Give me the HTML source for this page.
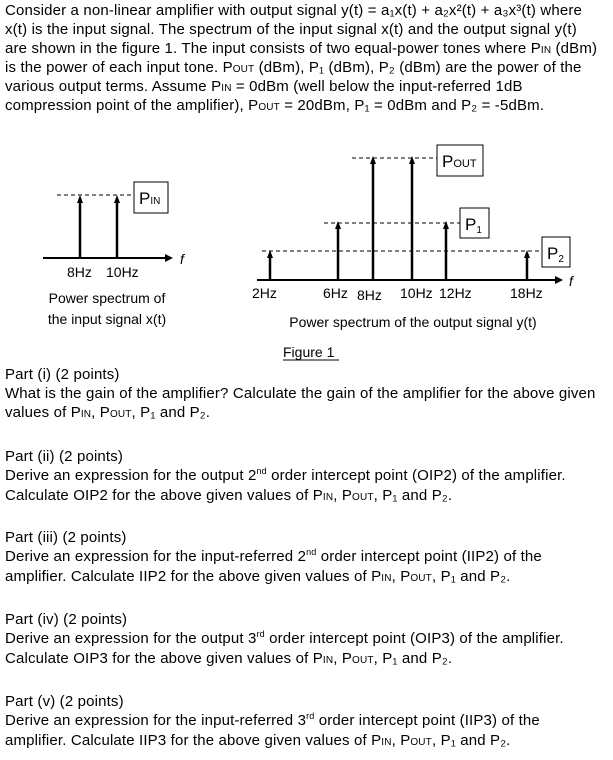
<!DOCTYPE html>
<html><head><meta charset="utf-8"><style>
body{margin:0;width:613px;height:760px;background:#fff;position:relative;overflow:hidden;font-family:"Liberation Sans",sans-serif;color:#000}
.l{position:absolute;left:5px;font-size:15px;letter-spacing:0.15px;white-space:nowrap;line-height:19px}
.s{font-size:10px}
sup{font-size:9px;line-height:0}
</style></head><body>
<div class="l" style="top:1px">Consider a non-linear amplifier with output signal y(t) = a₁x(t) + a₂x²(t) + a₃x³(t) where</div>
<div class="l" style="top:20px">x(t) is the input signal. The spectrum of the input signal x(t) and the output signal y(t)</div>
<div class="l" style="top:39px">are shown in the figure 1. The input consists of two equal-power tones where P<span class="s">IN</span> (dBm)</div>
<div class="l" style="top:58px">is the power of each input tone. P<span class="s">OUT</span> (dBm), P₁ (dBm), P₂ (dBm) are the power of the</div>
<div class="l" style="top:77px">various output terms. Assume P<span class="s">IN</span> = 0dBm (well below the input-referred 1dB</div>
<div class="l" style="top:96px">compression point of the amplifier), P<span class="s">OUT</span> = 20dBm, P₁ = 0dBm and P₂ = -5dBm.</div>

<svg width="613" height="370" style="position:absolute;left:0;top:0" font-family="Liberation Sans,sans-serif">
<g stroke="#000" stroke-width="1" stroke-dasharray="4,3" fill="none">
<line x1="57" y1="195" x2="134" y2="195"/>
<line x1="352" y1="158" x2="437" y2="158"/>
<line x1="324" y1="223" x2="460" y2="223"/>
<line x1="262" y1="251" x2="542" y2="251"/>
</g>
<g stroke="#000" stroke-width="2.5">
<line x1="43" y1="258" x2="166" y2="258" stroke-width="2"/>
<line x1="80" y1="258" x2="80" y2="202"/>
<line x1="117" y1="258" x2="117" y2="202"/>
<line x1="257" y1="280" x2="556" y2="280" stroke-width="2"/>
<line x1="270" y1="280" x2="270" y2="257"/>
<line x1="338" y1="280" x2="338" y2="228"/>
<line x1="373" y1="280" x2="373" y2="163"/>
<line x1="412" y1="280" x2="412" y2="163"/>
<line x1="446" y1="280" x2="446" y2="228"/>
<line x1="527" y1="280" x2="527" y2="257"/>
</g>
<g fill="#000">
<polygon points="165,254 173,258 165,262"/>
<polygon points="555,276 563,280 555,284"/>
<polygon points="80,195 77,203 83,203"/>
<polygon points="117,195 114,203 120,203"/>
<polygon points="270,250 267,258 273,258"/>
<polygon points="338,221 335,229 341,229"/>
<polygon points="373,156 370,164 376,164"/>
<polygon points="412,156 409,164 415,164"/>
<polygon points="446,221 443,229 449,229"/>
<polygon points="527,250 524,258 530,258"/>
</g>
<g fill="#fff" stroke="#000" stroke-width="1">
<rect x="134" y="182" width="34" height="31"/>
<rect x="437" y="145" width="46" height="31"/>
<rect x="460" y="208" width="29" height="30"/>
<rect x="542" y="237" width="28" height="30"/>
</g>
<g font-size="17">
<text x="139" y="204">P<tspan font-size="10">IN</tspan></text>
<text x="442" y="167">P<tspan font-size="11">OUT</tspan></text>
<text x="465" y="230">P<tspan font-size="10" dy="3">1</tspan></text>
<text x="547" y="259">P<tspan font-size="10" dy="3">2</tspan></text>
</g>
<g font-size="14" font-style="italic"><text x="180" y="264">f</text><text x="569" y="286">f</text></g>
<g font-size="14">
<text x="67" y="277">8Hz</text><text x="106" y="277">10Hz</text>
<text x="252" y="298">2Hz</text><text x="323" y="298">6Hz</text><text x="357" y="300">8Hz</text>
<text x="400" y="298">10Hz</text><text x="439" y="298">12Hz</text><text x="510" y="298">18Hz</text>
<text x="107" y="303" text-anchor="middle">Power spectrum of</text>
<text x="107" y="324" text-anchor="middle">the input signal x(t)</text>
<text x="413" y="327" text-anchor="middle">Power spectrum of the output signal y(t)</text>
<text x="283" y="357">Figure 1</text>
</g>
<line x1="283" y1="360" x2="339" y2="360" stroke="#000" stroke-width="1"/>
</svg>

<div class="l" style="top:365px">Part (i) (2 points)</div>
<div class="l" style="top:384px">What is the gain of the amplifier? Calculate the gain of the amplifier for the above given</div>
<div class="l" style="top:403px">values of P<span class="s">IN</span>, P<span class="s">OUT</span>, P₁ and P₂.</div>

<div class="l" style="top:447px">Part (ii) (2 points)</div>
<div class="l" style="top:466px">Derive an expression for the output 2<sup>nd</sup> order intercept point (OIP2) of the amplifier.</div>
<div class="l" style="top:486px">Calculate OIP2 for the above given values of P<span class="s">IN</span>, P<span class="s">OUT</span>, P₁ and P₂.</div>

<div class="l" style="top:528px">Part (iii) (2 points)</div>
<div class="l" style="top:547px">Derive an expression for the input-referred 2<sup>nd</sup> order intercept point (IIP2) of the</div>
<div class="l" style="top:567px">amplifier. Calculate IIP2 for the above given values of P<span class="s">IN</span>, P<span class="s">OUT</span>, P₁ and P₂.</div>

<div class="l" style="top:610px">Part (iv) (2 points)</div>
<div class="l" style="top:629px">Derive an expression for the output 3<sup>rd</sup> order intercept point (OIP3) of the amplifier.</div>
<div class="l" style="top:649px">Calculate OIP3 for the above given values of P<span class="s">IN</span>, P<span class="s">OUT</span>, P₁ and P₂.</div>

<div class="l" style="top:692px">Part (v) (2 points)</div>
<div class="l" style="top:711px">Derive an expression for the input-referred 3<sup>rd</sup> order intercept point (IIP3) of the</div>
<div class="l" style="top:731px">amplifier. Calculate IIP3 for the above given values of P<span class="s">IN</span>, P<span class="s">OUT</span>, P₁ and P₂.</div>
</body></html>
